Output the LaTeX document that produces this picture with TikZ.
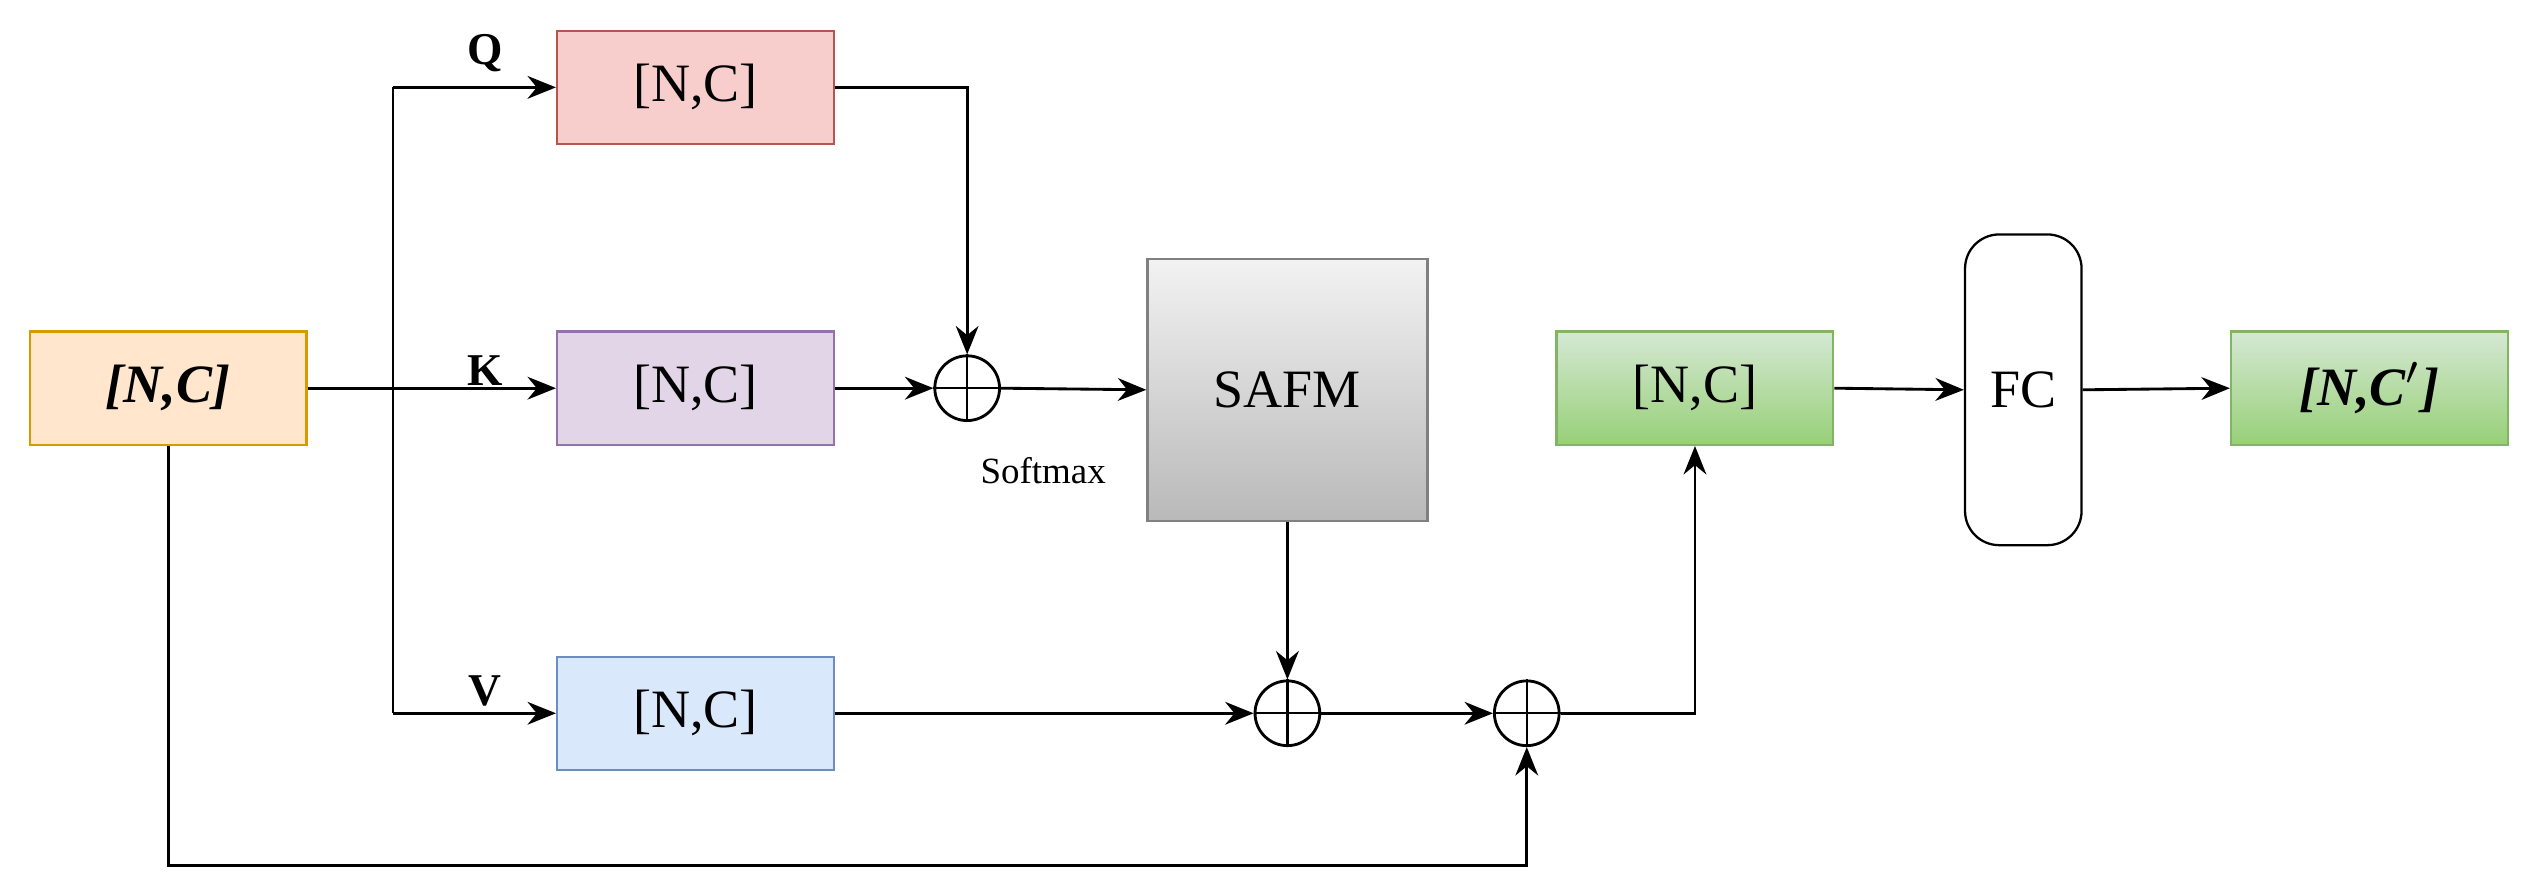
\documentclass[tikz,border=0pt]{standalone}
\usepackage{fontspec}
\setmainfont{Liberation Serif}
\usetikzlibrary{arrows.meta}
\definecolor{orf}{HTML}{FFE6CC}\definecolor{ord}{HTML}{D79B00}
\definecolor{rf}{HTML}{F8CECC}\definecolor{rd}{HTML}{B85450}
\definecolor{pf}{HTML}{E1D5E7}\definecolor{pd}{HTML}{9673A6}
\definecolor{bf}{HTML}{DAE8FC}\definecolor{bd}{HTML}{6C8EBF}
\definecolor{gf}{HTML}{D5E8D4}\definecolor{gf2}{HTML}{97D077}\definecolor{gd}{HTML}{82B366}
\begin{document}
\begin{tikzpicture}[x=0.01cm,y=-0.01cm,
 box/.style={draw,minimum width=1.71cm,minimum height=0.70cm,font=\fontsize{9.5}{11}\selectfont,inner sep=0pt},
 plus/.style={draw,circle,minimum size=0.40cm,inner sep=0pt,line width=0.5pt},
 arr/.style={-{Stealth[length=5pt,width=4pt]},line width=0.5pt},
 lab/.style={font=\bfseries\fontsize{8}{9}\selectfont}]
\useasboundingbox (0,0) rectangle (1568,553);
\node[box,fill=orf,draw=ord,font=\bfseries\itshape\fontsize{9.5}{11}\selectfont] (in) at (104,240) {[N,C]};
\node[box,fill=rf,draw=rd] (q) at (430,54) {[N,C]};
\node[box,fill=pf,draw=pd] (k) at (430,240) {[N,C]};
\node[box,fill=bf,draw=bd] (v) at (430,441) {[N,C]};
\node[box,top color=gf,bottom color=gf2,draw=gd] (g) at (1048,240) {[N,C]};
\node[box,top color=gf,bottom color=gf2,draw=gd,font=\bfseries\itshape\fontsize{9.5}{11}\selectfont] (out) at (1465,240) {[N,C$'$]};
\node[draw=gray,top color=gray!10,bottom color=gray!55,minimum width=1.73cm,minimum height=1.62cm,font=\fontsize{9.5}{11}\selectfont] (safm) at (796,241) {SAFM};
\node[draw,rounded corners=6pt,minimum width=0.72cm,minimum height=1.92cm,font=\fontsize{9.5}{11}\selectfont] (fc) at (1251,241) {FC};
\node[plus] (p1) at (598,240) {};
\node[plus] (p2) at (796,441) {};
\node[plus] (p3) at (944,441) {};
\foreach \p in {p1,p2,p3}{\draw (\p.north)--(\p.south) (\p.west)--(\p.east);}
\node[font=\fontsize{6.5}{8}\selectfont] (sm) at (645,291) {Softmax};
\node[lab] (lq) at (300,33) {Q};
\node[lab] (lk) at (300,229) {K};
\node[lab] (lv) at (300,427) {V};
\coordinate (s1) at (243,54);\coordinate (s2) at (243,441);
\draw[line width=0.5pt] (s1)--(s2);
\draw[arr] (s1)--(q.west);
\draw[arr] (in.east)--(k.west);
\draw[arr] (s2)--(v.west);
\draw[arr] (q.east)-|(p1.north);
\draw[arr] (k.east)--(p1.west);
\draw[arr] (p1.east)--(safm.west);
\draw[arr] (safm.south)--(p2.north);
\draw[arr] (v.east)--(p2.west);
\draw[arr] (p2.east)--(p3.west);
\draw[arr] (p3.east)-|(g.south);
\draw[arr] (in.south)|-(944,535)--(p3.south);
\draw[arr] (g.east)--(fc.west);
\draw[arr] (fc.east)--(out.west);
\end{tikzpicture}
\end{document}
